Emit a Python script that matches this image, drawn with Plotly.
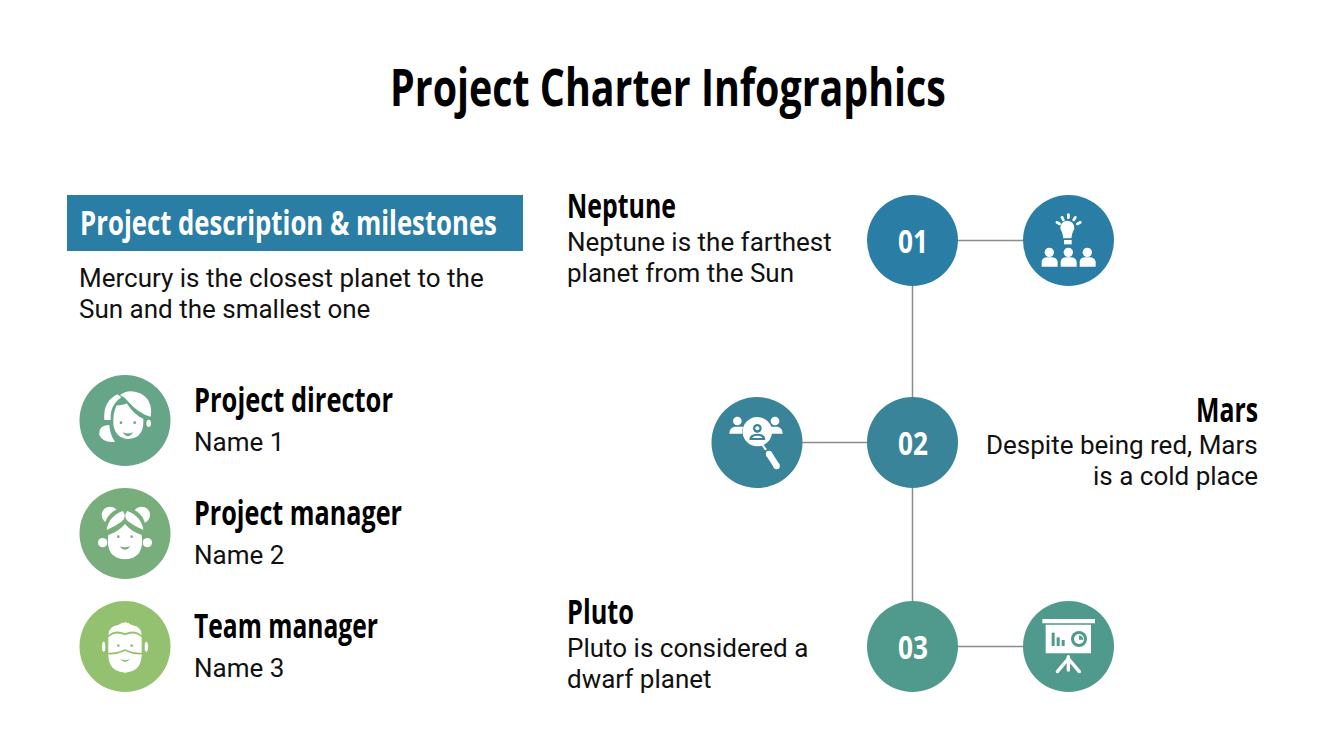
"""Project Charter infographic, drawn on a pixel-sized plotly canvas."""
import json
import math
import re

import plotly.graph_objects as go

W, H = 1336, 752

TITLE = "Project Charter Infographics"
BANNER = "Project description & milestones"
INTRO_LINES = ["Mercury is the closest planet to the", "Sun and the smallest one"]

ROLES = ["Project director", "Project manager", "Team manager"]
ROLE_RIGHT = [393, 402, 378]
NAMES = ["Name 1", "Name 2", "Name 3"]
ROLE_COLORS = ["#66A587", "#78AD7C", "#93C170"]
ROLE_X = [125, 125, 125]
ROLE_Y = [420.5, 533.5, 646.5]

STEP_LABELS = ["01", "02", "03"]
STEP_COLORS = ["#2A7DA5", "#3A8499", "#4F9A8D"]
STEP_X = [912.5, 912.5, 912.5]
STEP_Y = [240.5, 442.5, 646.5]
ICON_X = [1068.5, 757, 1068.5]
ICON_Y = [240.5, 442.5, 646.5]

HEADINGS = ["Neptune", "Mars", "Pluto"]
HEAD_LEFT = [567, 1196, 567]
HEAD_RIGHT = [676, 1258, 634]
BODY_LINES = [
    ["Neptune is the farthest", "planet from the Sun"],
    ["Despite being red, Mars", "is a cold place"],
    ["Pluto is considered a", "dwarf planet"],
]

HEAD_FONT = "Open Sans"
BODY_FONT = "Roboto"
WHITE = "#FFFFFF"
INK = "#111111"

shapes = []
annotations = []
squeeze = {}  # heading text -> width on the page, applied in post_script


def crop_path(ox, oy, d, color=WHITE):
    # paths are noted in 3x crop units, ox/oy = crop corner on the page
    nums = iter(range(10 ** 6))

    def conv(m):
        i = next(nums)
        v = float(m.group())
        return f"{(ox if i % 2 == 0 else oy) + v / 3:.2f}"

    shapes.append(dict(type="path", path=re.sub(r"-?\d+\.?\d*", conv, d),
                       fillcolor=color, line=dict(width=0), layer="above"))


def disc(ox, oy, x, y, r, color=WHITE, ry=None):
    ry = r if ry is None else ry
    shapes.append(dict(type="circle", x0=ox + (x - r) / 3, x1=ox + (x + r) / 3,
                       y0=oy + (y - ry) / 3, y1=oy + (y + ry) / 3,
                       fillcolor=color, line=dict(width=0), layer="above"))


def box(ox, oy, x0, y0, x1, y1, color=WHITE):
    shapes.append(dict(type="rect", x0=ox + x0 / 3, x1=ox + x1 / 3,
                       y0=oy + y0 / 3, y1=oy + y1 / 3,
                       fillcolor=color, line=dict(width=0), layer="above"))


def stroke(ox, oy, x0, y0, x1, y1, w, color=WHITE):
    # thick round-ended segment, w in crop units
    a = math.atan2(y1 - y0, x1 - x0) + math.pi / 2
    dx, dy = math.cos(a) * w / 2, math.sin(a) * w / 2
    crop_path(ox, oy, f"M {x0 + dx:.2f} {y0 + dy:.2f} L {x1 + dx:.2f} {y1 + dy:.2f} "
                      f"L {x1 - dx:.2f} {y1 - dy:.2f} L {x0 - dx:.2f} {y0 - dy:.2f} Z", color)
    disc(ox, oy, x0, y0, w / 2, color)
    disc(ox, oy, x1, y1, w / 2, color)


def label(x, y, text, size=26, anchor="left"):
    annotations.append(dict(x=x, y=y, xref="x", yref="y", showarrow=False, text=text,
                            xanchor=anchor, yanchor="middle",
                            font=dict(family=BODY_FONT, size=size, color=INK)))


def heading(left, right, y, text, size=34, color="#000000"):
    # anchored on its middle so the squeeze in post_script keeps both ends in place
    annotations.append(dict(x=(left + right) / 2, y=y, xref="x", yref="y", showarrow=False,
                            text=text, xanchor="center", yanchor="middle",
                            width=right - left + 6, height=size,
                            font=dict(family=HEAD_FONT, size=size, color=color, weight=700)))
    squeeze[text] = right - left


def icon_bulb(c):
    ox, oy = 1010, 185
    disc(ox, oy, 172, 128, 21)
    crop_path(ox, oy, "M 156 140 L 188 140 L 184 160 L 160 160 Z")
    box(ox, oy, 162, 165, 185, 178)
    for r in [(141, 112, 149, 117), (156, 97, 160, 105), (175, 89, 175, 98),
              (196, 97, 191, 105), (211, 112, 202, 117)]:
        stroke(ox, oy, *r, 8)
    for dx in (0, 57, 114):
        disc(ox, oy, 118 + dx, 202, 14)
        crop_path(ox, oy, f"M {95 + dx} 245 L {95 + dx} 232 Q {95 + dx} 218 {110 + dx} 217 "
                          f"L {127 + dx} 217 Q {142 + dx} 218 {143 + dx} 232 L {143 + dx} 245 Z")


def icon_search(c):
    ox, oy = 700, 385
    disc(ox, oy, 112, 108, 13)
    disc(ox, oy, 225, 108, 13)
    crop_path(ox, oy, "M 88 146 Q 88 128 105 125 L 130 125 Q 124 135 128 146 Z")
    crop_path(ox, oy, "M 248 146 Q 248 128 232 125 L 212 125 Q 218 135 214 146 Z")
    disc(ox, oy, 172, 140, 44)
    disc(ox, oy, 172, 130, 13, c)
    disc(ox, oy, 172, 130, 6)
    crop_path(ox, oy, "M 148 165 Q 148 146 172 146 Q 196 146 196 165 Z", c)
    crop_path(ox, oy, "M 157 159 Q 160 152 172 152 Q 184 152 187 159 Z")
    stroke(ox, oy, 186, 178, 197, 193, 6)
    stroke(ox, oy, 207, 207, 230, 243, 19)


def icon_board(c):
    ox, oy = 1010, 590
    box(ox, oy, 97, 87, 255, 100)
    box(ox, oy, 107, 104, 243, 190)
    for x, top in [(125, 128), (140, 142), (155, 150)]:
        box(ox, oy, x, top, x + 9, 168, c)
    disc(ox, oy, 207, 147, 24, c)
    disc(ox, oy, 207, 147, 15)
    crop_path(ox, oy, "M 207 149 L 207 136 Q 219 138 220 149 Z", c)
    stroke(ox, oy, 175, 200, 175, 240, 10)
    stroke(ox, oy, 175, 206, 142, 245, 10)
    stroke(ox, oy, 175, 206, 208, 245, 10)


def face_director(c):
    ox, oy = 60, 360
    crop_path(ox, oy, "M 180 105 Q 205 85 240 100 Q 280 120 272 170 Q 235 160 205 125 Q 195 112 180 105 Z")
    crop_path(ox, oy, "M 172 103 Q 128 125 133 180 L 152 180 Q 150 150 165 130 Q 175 118 184 112 Z")
    crop_path(ox, oy, "M 170 136 Q 190 136 200 130 Q 225 168 250 176 L 250 190 "
                      "Q 248 235 205 237 Q 167 235 160 195 Q 158 160 170 136 Z")
    disc(ox, oy, 266, 190, 7, ry=11)
    crop_path(ox, oy, "M 148 195 Q 115 195 118 225 Q 130 250 165 245 Q 150 225 148 195 Z")
    disc(ox, oy, 183, 188, 4, c)
    disc(ox, oy, 224, 188, 4, c)
    crop_path(ox, oy, "M 188 217 Q 204 224 220 217 Q 204 240 188 217 Z", c)


def face_manager(c):
    ox, oy = 60, 360
    disc(ox, oy, 150, 465, 25)
    disc(ox, oy, 245, 465, 25)
    disc(ox, oy, 195, 505, 62, c)
    crop_path(ox, oy, "M 140 510 Q 145 470 188 453 Q 202 470 186 484 Q 165 500 140 510 Z")
    crop_path(ox, oy, "M 250 510 Q 245 470 202 453 Q 188 470 204 484 Q 225 500 250 510 Z")
    crop_path(ox, oy, "M 145 525 Q 175 515 195 492 Q 215 515 245 525 Q 255 595 195 598 Q 135 595 145 525 Z")
    disc(ox, oy, 128, 548, 14)
    disc(ox, oy, 262, 548, 14)
    disc(ox, oy, 175, 530, 4, c)
    disc(ox, oy, 215, 530, 4, c)
    crop_path(ox, oy, "M 178 558 Q 195 566 212 558 Q 195 580 178 558 Z", c)


def face_team(c):
    ox, oy = 60, 360
    crop_path(ox, oy, "M 145 826 Q 143 800 175 795 Q 195 778 215 795 Q 247 800 245 826 "
                      "Q 225 806 195 820 Q 165 806 145 826 Z")
    crop_path(ox, oy, "M 145 832 Q 165 812 195 826 Q 225 812 245 832 L 245 878 "
                      "Q 220 880 195 868 Q 170 880 145 878 Z")
    crop_path(ox, oy, "M 145 883 Q 170 885 195 873 Q 220 885 245 883 Q 245 935 195 938 Q 145 935 145 883 Z")
    disc(ox, oy, 131, 860, 5, ry=15)
    disc(ox, oy, 259, 860, 5, ry=15)
    disc(ox, oy, 175, 857, 4, c)
    disc(ox, oy, 215, 857, 4, c)
    crop_path(ox, oy, "M 180 897 Q 195 903 210 897 Q 195 915 180 897 Z", c)


# --- connectors, then circles on top of them
link_x, link_y = [], []
for sx, sy, ix, iy in zip(STEP_X, STEP_Y, ICON_X, ICON_Y):
    link_x += [sx, ix, None]
    link_y += [sy, iy, None]
link_x += [STEP_X[0], STEP_X[2]]
link_y += [STEP_Y[0], STEP_Y[2]]

fig = go.Figure()
fig.add_trace(go.Scatter(x=link_x, y=link_y, mode="lines", hoverinfo="skip",
                         line=dict(color="#8C8C8C", width=1.5)))
fig.add_trace(go.Scatter(x=STEP_X + ICON_X, y=STEP_Y + ICON_Y, mode="markers", hoverinfo="skip",
                         marker=dict(size=91, color=STEP_COLORS * 2, line=dict(width=0))))
fig.add_trace(go.Scatter(x=ROLE_X, y=ROLE_Y, mode="markers", hoverinfo="skip",
                         marker=dict(size=91, color=ROLE_COLORS, line=dict(width=0))))

# --- banner
shapes.append(dict(type="rect", x0=67, x1=523, y0=195, y1=251, fillcolor="#2A7DA5",
                   line=dict(width=0), layer="below"))

# --- icons
for draw, col in zip([icon_bulb, icon_search, icon_board], STEP_COLORS):
    draw(col)
for draw, col in zip([face_director, face_manager, face_team], ROLE_COLORS):
    draw(col)

# --- text
heading(390, 946, 85, TITLE, size=52)
heading(80, 497, 222, BANNER, color=WHITE)
for i, line in enumerate(INTRO_LINES):
    label(77, 278 + i * 31, line)

for role, right, name, y in zip(ROLES, ROLE_RIGHT, NAMES, ROLE_Y):
    heading(194, right, y - 22, role)
    label(192, y + 21, name)

for lbl, x, y in zip(STEP_LABELS, STEP_X, STEP_Y):
    heading(x - 15, x + 15, y - 1, lbl, size=32, color=WHITE)

heading(HEAD_LEFT[0], HEAD_RIGHT[0], 205, HEADINGS[0])
for i, line in enumerate(BODY_LINES[0]):
    label(565, 242 + i * 31, line)
heading(HEAD_LEFT[1], HEAD_RIGHT[1], 409, HEADINGS[1])
for i, line in enumerate(BODY_LINES[1]):
    label(1260, 445 + i * 31, line, anchor="right")
heading(HEAD_LEFT[2], HEAD_RIGHT[2], 611, HEADINGS[2])
for i, line in enumerate(BODY_LINES[2]):
    label(565, 648 + i * 31, line)

fig.update_layout(
    width=W, height=H, margin=dict(l=0, r=0, t=0, b=0), showlegend=False,
    paper_bgcolor=WHITE, plot_bgcolor=WHITE,
    xaxis=dict(range=[0, W], visible=False, fixedrange=True),
    yaxis=dict(range=[H, 0], visible=False, fixedrange=True),
    shapes=shapes, annotations=annotations,
)

# no extra-condensed face is installed, so the headings get squeezed to their width
post = """
document.body.style.margin = '0';
var widths = %s;
document.querySelectorAll('.annotation-text').forEach(function (t) {
  var w = widths[t.textContent];
  if (w) {
    var cx = parseFloat(t.getAttribute('x')) || 0;
    var k = w / t.getComputedTextLength();
    t.setAttribute('transform', 'translate(' + cx + ' 0) scale(' + k + ' 1) translate(' + (-cx) + ' 0)');
    t.removeAttribute('clip-path');
    t.style.clipPath = 'none';
  }
});
""" % json.dumps(squeeze)

fig.write_html("out.html", config={"displayModeBar": False}, post_script=post)
